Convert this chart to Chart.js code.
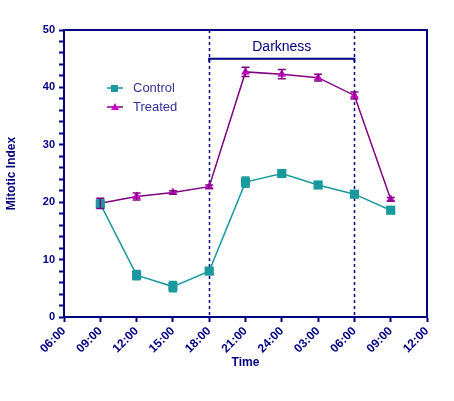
<!DOCTYPE html>
<html>
<head>
<meta charset="utf-8">
<script src="https://cdn.jsdelivr.net/npm/chart.js@4"></script>
<style>
  html, body { margin: 0; padding: 0; background: #fff; }
  #wrap { width: 454px; height: 401px; }
</style>
</head>
<body>
<div id="wrap"><canvas id="chart" width="454" height="401"></canvas></div>
<script>
'use strict';

// Hours since 00:00 of day one (24 = midnight, 33 = 09:00 next day)
var timeHours = [9, 12, 15, 18, 21, 24, 27, 30, 33];
var tickLabels = ['06:00', '09:00', '12:00', '15:00', '18:00', '21:00', '24:00', '03:00', '06:00', '09:00', '12:00'];

var controlValues = [19.7, 7.3, 5.3, 8.0, 23.5, 25.0, 23.0, 21.4, 18.6];
var controlErrors = [0.7, 0.8, 0.9, 0.5, 0.9, 0.5, 0.5, 0.4, 0.5];
var treatedValues = [19.8, 21.0, 21.7, 22.7, 42.7, 42.3, 41.7, 38.6, 20.5];
var treatedErrors = [0.9, 0.6, 0.3, 0.3, 0.8, 0.8, 0.6, 0.6, 0.3];

var darknessStart = 18;
var darknessEnd = 30;
var darknessLevel = 45;

var navy = '#000080';
var teal = '#1a9a9e';
var purple = '#800080';
var magenta = '#cc00cc';
var fontFamily = '"Liberation Sans", Arial, sans-serif';

var toPoints = function (values) {
    return values.map(function (v, i) { return { x: timeHours[i], y: v }; });
};

// Error bars, frame, darkness markers and legend:
var decorations = {
    id: 'decorations',
    beforeDatasetsDraw: function (chart) {
        var ctx = chart.ctx;
        var x = chart.scales.x;
        var y = chart.scales.y;
        var area = chart.chartArea;
        ctx.save();
        ctx.strokeStyle = navy;
        ctx.lineWidth = 1.5;
        ctx.setLineDash([3, 3]);
        [darknessStart, darknessEnd].forEach(function (h) {
            var px = Math.round(x.getPixelForValue(h)) + 0.5;
            ctx.beginPath();
            ctx.moveTo(px, area.top);
            ctx.lineTo(px, area.bottom);
            ctx.stroke();
        });
        ctx.setLineDash([]);
        // bracket
        var x1 = x.getPixelForValue(darknessStart);
        var x2 = x.getPixelForValue(darknessEnd);
        var by = y.getPixelForValue(darknessLevel);
        ctx.lineWidth = 2;
        ctx.beginPath();
        ctx.moveTo(x1, by + 3);
        ctx.lineTo(x1, by);
        ctx.lineTo(x2, by);
        ctx.lineTo(x2, by + 3);
        ctx.stroke();
        ctx.fillStyle = navy;
        ctx.font = '14px ' + fontFamily;
        ctx.textAlign = 'center';
        ctx.textBaseline = 'middle';
        ctx.fillText('Darkness', (x1 + x2) / 2, y.getPixelForValue(47.1));
        ctx.restore();
    },
    afterDatasetsDraw: function (chart) {
        var ctx = chart.ctx;
        var x = chart.scales.x;
        var y = chart.scales.y;
        var area = chart.chartArea;
        ctx.save();
        // error bars
        [[controlValues, controlErrors, teal], [treatedValues, treatedErrors, purple]].forEach(function (s) {
            ctx.strokeStyle = s[2];
            ctx.lineWidth = 1.5;
            s[0].forEach(function (v, i) {
                var px = x.getPixelForValue(timeHours[i]);
                var top = y.getPixelForValue(v + s[1][i]);
                var bot = y.getPixelForValue(v - s[1][i]);
                ctx.beginPath();
                ctx.moveTo(px, top);
                ctx.lineTo(px, bot);
                ctx.moveTo(px - 4, top);
                ctx.lineTo(px + 4, top);
                ctx.moveTo(px - 4, bot);
                ctx.lineTo(px + 4, bot);
                ctx.stroke();
            });
        });
        // frame top and right
        ctx.strokeStyle = navy;
        ctx.lineWidth = 2;
        ctx.beginPath();
        ctx.moveTo(area.left, area.top);
        ctx.lineTo(area.right, area.top);
        ctx.lineTo(area.right, area.bottom);
        ctx.stroke();
        // legend
        var items = [['Control', teal, teal, 'rect', 88], ['Treated', purple, magenta, 'triangle', 107]];
        ctx.font = '13px ' + fontFamily;
        ctx.textAlign = 'left';
        ctx.textBaseline = 'middle';
        items.forEach(function (it) {
            var ly = it[4];
            ctx.strokeStyle = it[1];
            ctx.lineWidth = 1.5;
            ctx.beginPath();
            ctx.moveTo(107, ly);
            ctx.lineTo(123, ly);
            ctx.stroke();
            ctx.fillStyle = it[2];
            ctx.beginPath();
            if (it[3] === 'rect') {
                ctx.rect(111, ly - 3, 7, 7);
            } else {
                ctx.moveTo(115, ly - 4);
                ctx.lineTo(119, ly + 3);
                ctx.lineTo(111, ly + 3);
                ctx.closePath();
            }
            ctx.fill();
            ctx.fillStyle = '#333399';
            ctx.fillText(it[0], 133, ly);
        });
        ctx.restore();
    }
};

var ctx = document.getElementById('chart').getContext('2d');
var chart = new Chart(ctx, {
    type: 'line',
    data: {
        datasets: [{
            label: 'Control',
            data: toPoints(controlValues),
            borderColor: teal,
            backgroundColor: teal,
            borderWidth: 1.5,
            pointStyle: 'rect',
            pointRadius: 6.5,
            pointBorderWidth: 0,
            tension: 0
        }, {
            label: 'Treated',
            data: toPoints(treatedValues),
            borderColor: purple,
            backgroundColor: magenta,
            pointBackgroundColor: magenta,
            borderWidth: 1.5,
            pointStyle: 'triangle',
            pointRadius: 5,
            pointBorderWidth: 0,
            tension: 0
        }]
    },
    options: {
        responsive: false,
        animation: false,
        devicePixelRatio: 1,
        layout: { padding: { top: 30, right: 27, left: 0, bottom: 31 } },
        plugins: {
            legend: { display: false },
            tooltip: { enabled: false }
        },
        scales: {
            x: {
                type: 'linear',
                min: 6,
                max: 36,
                afterBuildTicks: function (scale) {
                    scale.ticks = tickLabels.map(function (l, i) { return { value: 6 + i * 3 }; });
                },
                afterFit: function (scale) { scale.height = 53; },
                ticks: {
                    autoSkip: false,
                    maxRotation: 45,
                    minRotation: 45,
                    color: navy,
                    padding: 2,
                    font: { family: fontFamily, size: 12, weight: 'bold' },
                    callback: function (value) { return tickLabels[(value - 6) / 3]; }
                },
                grid: { drawOnChartArea: false, color: navy, tickLength: 5, tickWidth: 2 },
                border: { color: navy, width: 2 },
                title: {
                    display: true,
                    text: 'Time',
                    color: navy,
                    padding: { top: 0, bottom: 0 },
                    font: { family: fontFamily, size: 12, weight: 'bold' }
                }
            },
            y: {
                min: 0,
                max: 50,
                afterFit: function (scale) { scale.width = 64; },
                ticks: {
                    stepSize: 2,
                    autoSkip: false,
                    color: navy,
                    padding: 4,
                    font: { family: fontFamily, size: 11, weight: 'bold' },
                    callback: function (value) { return value % 10 === 0 ? value : ''; }
                },
                grid: { drawOnChartArea: false, color: navy, tickLength: 5, tickWidth: 2 },
                border: { color: navy, width: 2 },
                title: {
                    display: true,
                    text: 'Mitotic Index',
                    color: navy,
                    font: { family: fontFamily, size: 12, weight: 'bold' }
                }
            }
        }
    },
    plugins: [decorations]
});
</script>
</body>
</html>
